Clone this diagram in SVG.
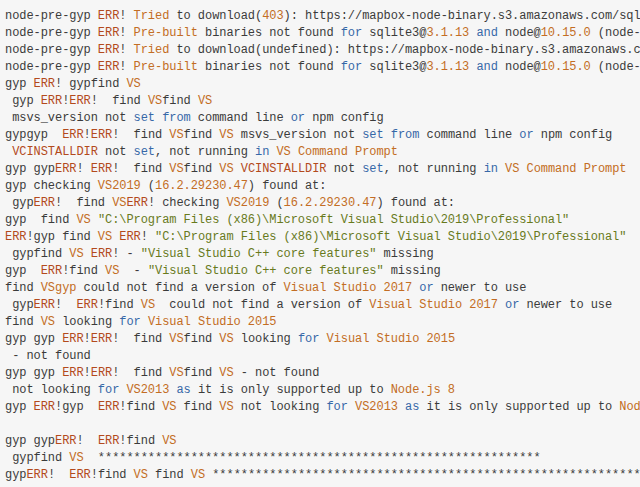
<svg xmlns="http://www.w3.org/2000/svg" width="640" height="487" viewBox="0 0 640 487">
<style>
text{font-family:"Liberation Mono","DejaVu Sans Mono",monospace;font-size:12px;letter-spacing:-0.06px;fill:#3b3b3b;white-space:pre}
.e{fill:#b34a1c}.o{fill:#c36d24}.b{fill:#3668a8}.g{fill:#687a1c}
</style>
<rect width="640" height="487" fill="#f6f6f6"/>
<g id="log" xml:space="preserve">
<text x="5" y="19">node-pre-gyp <tspan class="e">ERR</tspan>! <tspan class="o">Tried</tspan> to download(<tspan class="o">403</tspan>): https://mapbox-node-binary.s3.amazonaws.com/sqlite3</text>
<text x="5" y="36">node-pre-gyp <tspan class="e">ERR</tspan>! <tspan class="o">Pre-built</tspan> binaries not found <tspan class="b">for</tspan> sqlite3@<tspan class="o">3.1.13</tspan> <tspan class="b">and</tspan> node@<tspan class="o">10.15.0</tspan> (node-v64</text>
<text x="5" y="53">node-pre-gyp <tspan class="e">ERR</tspan>! <tspan class="o">Tried</tspan> to download(undefined): https://mapbox-node-binary.s3.amazonaws.com</text>
<text x="5" y="70">node-pre-gyp <tspan class="e">ERR</tspan>! <tspan class="o">Pre-built</tspan> binaries not found <tspan class="b">for</tspan> sqlite3@<tspan class="o">3.1.13</tspan> <tspan class="b">and</tspan> node@<tspan class="o">10.15.0</tspan> (node-v64</text>
<text x="5" y="87">gyp <tspan class="e">ERR</tspan>! gypfind <tspan class="o">VS</tspan></text>
<text x="5" y="104"> gyp <tspan class="e">ERR</tspan>!<tspan class="e">ERR</tspan>!  find <tspan class="o">VS</tspan>find <tspan class="o">VS</tspan></text>
<text x="5" y="121"> msvs_version not <tspan class="b">set</tspan> <tspan class="b">from</tspan> command line <tspan class="b">or</tspan> npm config</text>
<text x="5" y="138">gypgyp  <tspan class="e">ERR</tspan>!<tspan class="e">ERR</tspan>!  find <tspan class="o">VS</tspan>find <tspan class="o">VS</tspan> msvs_version not <tspan class="b">set</tspan> <tspan class="b">from</tspan> command line <tspan class="b">or</tspan> npm config</text>
<text x="5" y="155"> <tspan class="e">VCINSTALLDIR</tspan> not <tspan class="b">set</tspan>, not running <tspan class="b">in</tspan> <tspan class="o">VS Command Prompt</tspan></text>
<text x="5" y="172">gyp gyp<tspan class="e">ERR</tspan>! <tspan class="e">ERR</tspan>!  find <tspan class="o">VS</tspan>find <tspan class="o">VS</tspan> <tspan class="e">VCINSTALLDIR</tspan> not <tspan class="b">set</tspan>, not running <tspan class="b">in</tspan> <tspan class="o">VS Command Prompt</tspan></text>
<text x="5" y="189">gyp checking <tspan class="o">VS2019</tspan> (<tspan class="o">16.2.29230.47</tspan>) found at:</text>
<text x="5" y="206"> gyp<tspan class="e">ERR</tspan>!  find <tspan class="o">VS</tspan><tspan class="e">ERR</tspan>! checking <tspan class="o">VS2019</tspan> (<tspan class="o">16.2.29230.47</tspan>) found at:</text>
<text x="5" y="223">gyp  find <tspan class="o">VS</tspan> <tspan class="g">"C:\Program Files (x86)\Microsoft Visual Studio\2019\Professional"</tspan></text>
<text x="5" y="240"><tspan class="e">ERR</tspan>!gyp find <tspan class="o">VS</tspan> <tspan class="e">ERR</tspan>! <tspan class="g">"C:\Program Files (x86)\Microsoft Visual Studio\2019\Professional"</tspan></text>
<text x="5" y="257"> gypfind <tspan class="o">VS</tspan> <tspan class="e">ERR</tspan>! - <tspan class="g">"Visual Studio C++ core features"</tspan> missing</text>
<text x="5" y="274">gyp  <tspan class="e">ERR</tspan>!find <tspan class="o">VS</tspan>  - <tspan class="g">"Visual Studio C++ core features"</tspan> missing</text>
<text x="5" y="291">find <tspan class="o">VSgyp</tspan> could not find a version of <tspan class="o">Visual Studio 2017</tspan> <tspan class="b">or</tspan> newer to use</text>
<text x="5" y="308"> gyp<tspan class="e">ERR</tspan>!  <tspan class="e">ERR</tspan>!find <tspan class="o">VS</tspan>  could not find a version of <tspan class="o">Visual Studio 2017</tspan> <tspan class="b">or</tspan> newer to use</text>
<text x="5" y="325">find <tspan class="o">VS</tspan> looking <tspan class="b">for</tspan> <tspan class="o">Visual Studio 2015</tspan></text>
<text x="5" y="342">gyp gyp <tspan class="e">ERR</tspan>!<tspan class="e">ERR</tspan>!  find <tspan class="o">VS</tspan>find <tspan class="o">VS</tspan> looking <tspan class="b">for</tspan> <tspan class="o">Visual Studio 2015</tspan></text>
<text x="5" y="359"> - not found</text>
<text x="5" y="376">gyp gyp <tspan class="e">ERR</tspan>!<tspan class="e">ERR</tspan>!  find <tspan class="o">VS</tspan>find <tspan class="o">VS</tspan> - not found</text>
<text x="5" y="393"> not looking <tspan class="b">for</tspan> <tspan class="o">VS2013</tspan> <tspan class="b">as</tspan> it is only supported up to <tspan class="o">Node.js 8</tspan></text>
<text x="5" y="410">gyp <tspan class="e">ERR</tspan>!gyp  <tspan class="e">ERR</tspan>!find <tspan class="o">VS</tspan> find <tspan class="o">VS</tspan> not looking <tspan class="b">for</tspan> <tspan class="o">VS2013</tspan> <tspan class="b">as</tspan> it is only supported up to <tspan class="o">Nod</tspan></text>
<text x="5" y="444">gyp gyp<tspan class="e">ERR</tspan>!  <tspan class="e">ERR</tspan>!find <tspan class="o">VS</tspan></text>
<text x="5" y="461"> gypfind <tspan class="o">VS</tspan>  **************************************************************</text>
<text x="5" y="478">gyp<tspan class="e">ERR</tspan>!  <tspan class="e">ERR</tspan>!find <tspan class="o">VS</tspan> find <tspan class="o">VS</tspan> ************************************************************</text>
</g>
</svg>
